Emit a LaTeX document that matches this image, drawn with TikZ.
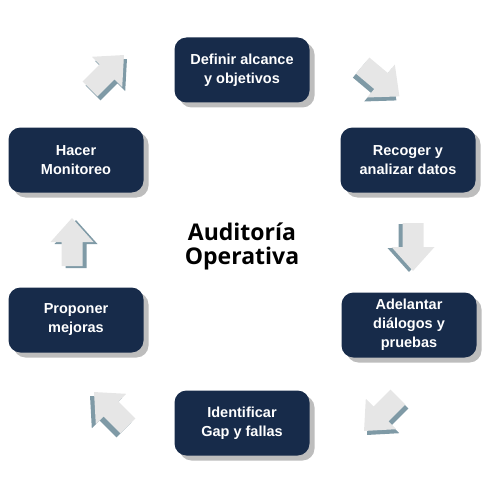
\documentclass[tikz,border=0pt]{standalone}
\usepackage{fontspec}
\setmainfont{Liberation Sans}
\newfontfamily\titulofont{Open Sans}
\usepackage{xcolor}
\usetikzlibrary{positioning,shadows}

\definecolor{azul}{HTML}{172B4A}
\definecolor{flechagris}{HTML}{E6E6E6}
\definecolor{flechasombra}{HTML}{7F9AA6}
\definecolor{sombragris}{HTML}{BDBDBD}

\begin{document}
\begin{tikzpicture}[x=1pt,y=-1pt,
  paso/.style={rectangle,rounded corners=12pt,fill=azul,text=white,minimum width=135pt,minimum height=65pt,align=center,
    font=\bfseries\fontsize{14.5}{19}\selectfont,
    drop shadow={shadow xshift=5pt,shadow yshift=-5pt,fill=sombragris,opacity=1}},
  titulo/.style={align=center,font=\titulofont\bfseries\fontsize{23}{24}\selectfont}]

  \useasboundingbox (0,0) rectangle (500,500);

  % The steps
  \node [paso] at (242,70) (definir) {Definir alcance\\y objetivos};
  \node [paso] at (408,160) (recoger) {Recoger y\\analizar datos};
  \node [paso] at (409,325) (adelantar) {Adelantar\\diálogos y\\pruebas};
  \node [paso] at (242,423) (identificar) {Identificar\\Gap y fallas};
  \node [paso] at (76,320) (proponer) {Proponer\\mejoras};
  \node [paso] at (76,160) (hacer) {Hacer\\Monitoreo};

  % Centre
  \node [titulo] at (242,246) (auditoria) {Auditoría\\Operativa};

  % Block arrows: x/y/angle/shadow dx/shadow dy
  \foreach \x/\y/\a/\dx/\dy in {381/81/-40/-3/4, 413/247/-90/-4/1, 381/414/-135/3/4,
                                111/409/135/-4/4, 72/242/90/4/2, 107/72/45/3/4}
  {
    \fill[flechasombra,shift={(\x+\dx,\y+\dy)},rotate=\a]
      (-24,-10.5) -- (0,-10.5) -- (0,-21.5) -- (24,0) -- (0,21.5) -- (0,10.5) -- (-24,10.5) -- cycle;
    \fill[flechagris,shift={(\x,\y)},rotate=\a]
      (-24,-10.5) -- (0,-10.5) -- (0,-21.5) -- (24,0) -- (0,21.5) -- (0,10.5) -- (-24,10.5) -- cycle;
  }

\end{tikzpicture}
\end{document}
